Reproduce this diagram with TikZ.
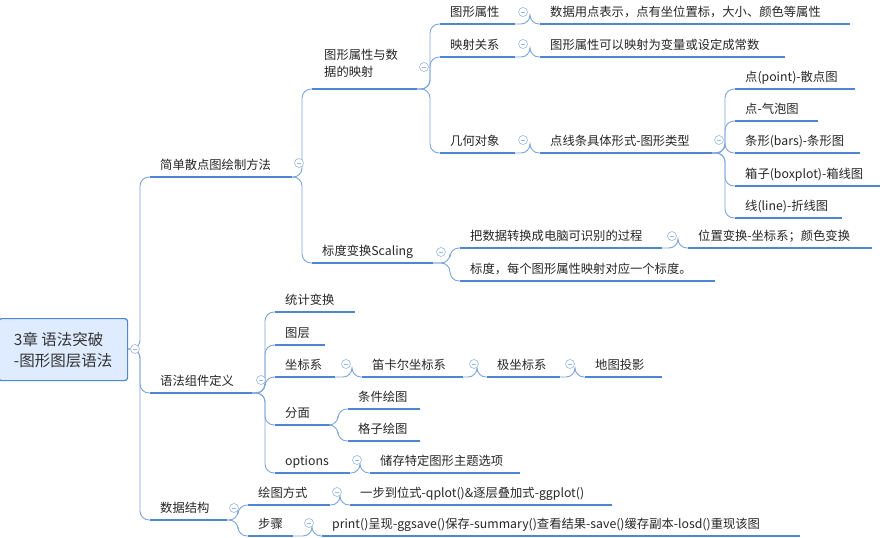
\documentclass[tikz,border=0pt]{standalone}
\usepackage{fontspec}
\setmainfont{Noto Sans CJK SC}
\begin{document}
\begin{tikzpicture}[x=1pt,y=-1pt,
  ul/.style={draw=ulc,line width=2.6pt},
  conn/.style={draw=cnc,line width=0.9pt,rounded corners=9pt},
  txt/.style={anchor=base west,inner sep=0pt,font=\fontsize{12.3}{16}\selectfont,text=black!85},
  ic/.style={circle,draw=cnc!80,fill=white,line width=0.6pt,minimum size=9pt,inner sep=0pt,
    path picture={\draw[cnc!80,line width=0.6pt] ([xshift=-2.2pt]path picture bounding box.center)--([xshift=2.2pt]path picture bounding box.center);}}]
\definecolor{ulc}{HTML}{4F86CF}
\definecolor{cnc}{HTML}{7EA6DA}
\useasboundingbox (0,0) rectangle (886,538);
\fill[white] (0,0) rectangle (886,538);
\newcommand\tp[5]{\draw[ul] (#2,#4) -- (#3,#4);
  \coordinate (#1L) at (#2,#4); \coordinate (#1R) at (#3,#4);
  \node[txt] (#1) at (#2+10,#4-7.5) {#5};}
\newcommand\lnk[2]{\draw[conn] (#1R) -| ([xshift=-10pt]#2L) -- (#2L);}
% root
\node[draw=ulc,fill=blue!8!white!95!cyan,rounded corners=3pt,line width=1.2pt,minimum width=129pt,minimum height=62pt,anchor=north west,align=left,font=\fontsize{15.5}{21}\selectfont,text=black!80,inner xsep=6pt] (root) at (-2,318) {3章 语法突破\\-图形图层语法};
\coordinate (rootR) at (128,349);
% level1
\tp{a}{150}{292}{177}{简单散点图绘制方法}
\tp{b}{150}{252}{393}{语法组件定义}
\tp{c}{150}{227}{520}{数据结构}
% a children
\draw[ul] (312,89) -- (417,89); \coordinate (a1L) at (312,89); \coordinate (a1R) at (417,89);
\node[txt,align=left,anchor=north west,font=\fontsize{12.3}{16.5}\selectfont] (a1) at (324,49) {图形属性与数\\据的映射};
\tp{a2}{312}{433}{263}{标度变换Scaling}
\tp{a11}{440}{515}{24}{图形属性}
\tp{a12}{440}{515}{57}{映射关系}
\tp{a13}{440}{515}{153}{几何对象}
\tp{a111}{540}{850}{24}{数据用点表示，点有坐位置标，大小、颜色等属性}
\tp{a121}{540}{785}{57}{图形属性可以映射为变量或设定成常数}
\tp{a131}{540}{712}{153}{点线条具体形式-图形类型}
\tp{g1}{735}{855}{89}{点(point)-散点图}
\tp{g2}{735}{818}{121}{点-气泡图}
\tp{g3}{735}{860}{153}{条形(bars)-条形图}
\tp{g4}{735}{880}{186}{箱子(boxplot)-箱线图}
\tp{g5}{735}{842}{218}{线(line)-折线图}
\tp{s1}{460}{662}{248}{把数据转换成电脑可识别的过程}
\tp{s11}{688}{872}{248}{位置变换-坐标系；颜色变换}
\tp{s2}{460}{715}{281}{标度，每个图形属性映射对应一个标度。}
% b children
\tp{b1}{275}{355}{312}{统计变换}
\tp{b2}{275}{325}{345}{图层}
\tp{b3}{275}{335}{377}{坐标系}
\tp{b31}{362}{463}{377}{笛卡尔坐标系}
\tp{b32}{487}{560}{377}{极坐标系}
\tp{b33}{585}{662}{377}{地图投影}
\tp{b4}{275}{330}{425}{分面}
\tp{b41}{348}{420}{409}{条件绘图}
\tp{b42}{348}{420}{441}{格子绘图}
\tp{b5}{275}{350}{473}{options}
\tp{b51}{370}{520}{473}{储存特定图形主题选项}
% c children
\tp{c1}{248}{330}{505}{绘图方式}
\tp{c11}{350}{612}{505}{一步到位式-qplot()\&逐层叠加式-ggplot()}
\tp{c2}{248}{293}{536}{步骤}
\tp{c21}{322}{800}{536}{print()呈现-ggsave()保存-summary()查看结果-save()缓存副本-losd()重现该图}
% links
\lnk{root}{a}\lnk{root}{b}\lnk{root}{c}
\lnk{a}{a1}\lnk{a}{a2}
\lnk{a1}{a11}\lnk{a1}{a12}\lnk{a1}{a13}
\lnk{a11}{a111}\lnk{a12}{a121}\lnk{a13}{a131}
\lnk{a131}{g1}\lnk{a131}{g2}\lnk{a131}{g3}\lnk{a131}{g4}\lnk{a131}{g5}
\lnk{a2}{s1}\lnk{a2}{s2}\lnk{s1}{s11}
\lnk{b}{b1}\lnk{b}{b2}\lnk{b}{b3}\lnk{b}{b4}\lnk{b}{b5}
\lnk{b3}{b31}\lnk{b31}{b32}\lnk{b32}{b33}
\lnk{b4}{b41}\lnk{b4}{b42}\lnk{b5}{b51}
\lnk{c}{c1}\lnk{c}{c2}\lnk{c1}{c11}\lnk{c2}{c21}
% collapse icons on top
\foreach \p in {(135,349),(299,163),(261,380),(234,508),(424,67),(441,252),(523,12),(523,44),(523,140),(719,140),(672,236),(346,364),(474,364),(570,364),(357,460),(337,492),(309,523)} \node[ic] at \p {};
\end{tikzpicture}
\end{document}
